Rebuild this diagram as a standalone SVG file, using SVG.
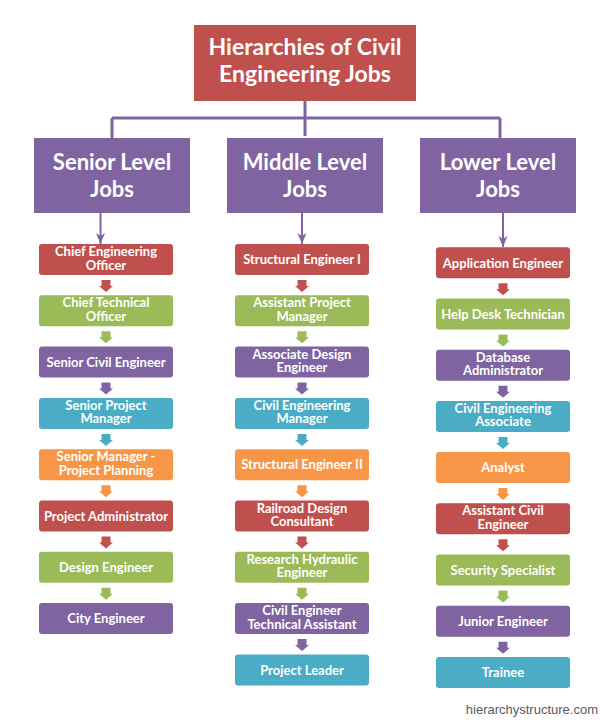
<svg xmlns="http://www.w3.org/2000/svg" width="600" height="720" viewBox="0 0 600 720">
<defs>
<style>
.red{fill:#C0504D}.grn{fill:#9BBB59}.pur{fill:#8064A2}.aqu{fill:#4BACC6}.org{fill:#F79646}
.t{font-family:Lato,"Liberation Sans",sans-serif;font-weight:bold;fill:#fff;text-anchor:middle}
.big{font-size:23px}.mid{font-size:22px}.sm{font-size:13px}
.con{fill:none;stroke:#8064A2;stroke-width:3}
.thin{fill:none;stroke:#8064A2;stroke-width:2;marker-end:url(#ah)}
.foot{font-family:"Liberation Sans",Arial,sans-serif;font-size:13px;fill:#5a5a5a;text-anchor:end}
</style>
<marker id="ah" markerUnits="userSpaceOnUse" markerWidth="12" markerHeight="12" viewBox="0 0 12 12" refX="11" refY="6" orient="auto">
<path d="M0,1.5 L11,6 L0,10.5 L3,6 Z" fill="#8064A2"/>
</marker>
<path id="ba" d="M-4.5,0 H4.5 V6 H7 L0,12 L-7,6 H-4.5 Z"/>
</defs>
<rect width="600" height="720" fill="#fff"/>

<g id="connectors">
<path class="con" d="M305,101 V136 M112,118 H500 M112,118 V138 M500,118 V138"/>
<path class="thin" d="M100.5,213 V244"/>
<path class="thin" d="M302,213 V244"/>
<path class="thin" d="M503,213 V247"/>
<!-- col1 block arrows -->
<use href="#ba" class="red" x="106" y="280"/>
<use href="#ba" class="grn" x="106" y="331.3"/>
<use href="#ba" class="pur" x="106" y="382.6"/>
<use href="#ba" class="aqu" x="106" y="433.9"/>
<use href="#ba" class="org" x="106" y="485.2"/>
<use href="#ba" class="red" x="106" y="536.5"/>
<use href="#ba" class="grn" x="106" y="587.8"/>
<!-- col2 -->
<use href="#ba" class="red" x="302" y="280"/>
<use href="#ba" class="grn" x="302" y="331.3"/>
<use href="#ba" class="pur" x="302" y="382.6"/>
<use href="#ba" class="aqu" x="302" y="433.9"/>
<use href="#ba" class="org" x="302" y="485.2"/>
<use href="#ba" class="red" x="302" y="536.5"/>
<use href="#ba" class="grn" x="302" y="587.8"/>
<use href="#ba" class="pur" x="302" y="639.1"/>
<!-- col3 -->
<use href="#ba" class="red" x="503" y="283.3"/>
<use href="#ba" class="grn" x="503" y="334.5"/>
<use href="#ba" class="pur" x="503" y="385.7"/>
<use href="#ba" class="aqu" x="503" y="436.9"/>
<use href="#ba" class="org" x="503" y="488.1"/>
<use href="#ba" class="red" x="503" y="539.3"/>
<use href="#ba" class="grn" x="503" y="590.5"/>
<use href="#ba" class="pur" x="503" y="641.7"/>
</g>

<g id="title"><rect class="red" x="194" y="25" width="222" height="76"/>
<text class="t big" x="305" y="55">Hierarchies of Civil</text><text class="t big" x="305" y="82">Engineering Jobs</text></g>

<g id="senior"><rect class="pur" x="34" y="138" width="156" height="75"/>
<text class="t mid" x="112" y="170">Senior Level</text><text class="t mid" x="112" y="197">Jobs</text></g>
<g id="middle"><rect class="pur" x="227" y="138" width="156" height="75"/>
<text class="t mid" x="305" y="170">Middle Level</text><text class="t mid" x="305" y="197">Jobs</text></g>
<g id="lower"><rect class="pur" x="420" y="138" width="156" height="75"/>
<text class="t mid" x="498" y="170">Lower Level</text><text class="t mid" x="498" y="197">Jobs</text></g>

<!-- column 1 -->
<g id="s1"><rect class="red" x="39" y="244" width="134" height="31" rx="3"/><text class="t sm" x="106" y="256">Chief Engineering</text><text class="t sm" x="106" y="269.5">Officer</text></g>
<g id="s2"><rect class="grn" x="39" y="295.3" width="134" height="31" rx="3"/><text class="t sm" x="106" y="307.3">Chief Technical</text><text class="t sm" x="106" y="320.8">Officer</text></g>
<g id="s3"><rect class="pur" x="39" y="346.6" width="134" height="31" rx="3"/><text class="t sm" x="106" y="366.8">Senior Civil Engineer</text></g>
<g id="s4"><rect class="aqu" x="39" y="397.9" width="134" height="31" rx="3"/><text class="t sm" x="106" y="409.9">Senior Project</text><text class="t sm" x="106" y="423.4">Manager</text></g>
<g id="s5"><rect class="org" x="39" y="449.2" width="134" height="31" rx="3"/><text class="t sm" x="106" y="461.2">Senior Manager -</text><text class="t sm" x="106" y="474.7">Project Planning</text></g>
<g id="s6"><rect class="red" x="39" y="500.5" width="134" height="31" rx="3"/><text class="t sm" x="106" y="520.7">Project Administrator</text></g>
<g id="s7"><rect class="grn" x="39" y="551.8" width="134" height="31" rx="3"/><text class="t sm" x="106" y="572">Design Engineer</text></g>
<g id="s8"><rect class="pur" x="39" y="603.1" width="134" height="31" rx="3"/><text class="t sm" x="106" y="623.3">City Engineer</text></g>

<!-- column 2 -->
<g id="m1"><rect class="red" x="235" y="244" width="134" height="31" rx="3"/><text class="t sm" x="302" y="264.2">Structural Engineer I</text></g>
<g id="m2"><rect class="grn" x="235" y="295.3" width="134" height="31" rx="3"/><text class="t sm" x="302" y="307.3">Assistant Project</text><text class="t sm" x="302" y="320.8">Manager</text></g>
<g id="m3"><rect class="pur" x="235" y="346.6" width="134" height="31" rx="3"/><text class="t sm" x="302" y="358.6">Associate Design</text><text class="t sm" x="302" y="372.1">Engineer</text></g>
<g id="m4"><rect class="aqu" x="235" y="397.9" width="134" height="31" rx="3"/><text class="t sm" x="302" y="409.9">Civil Engineering</text><text class="t sm" x="302" y="423.4">Manager</text></g>
<g id="m5"><rect class="org" x="235" y="449.2" width="134" height="31" rx="3"/><text class="t sm" x="302" y="469.4">Structural Engineer II</text></g>
<g id="m6"><rect class="red" x="235" y="500.5" width="134" height="31" rx="3"/><text class="t sm" x="302" y="512.5">Railroad Design</text><text class="t sm" x="302" y="526">Consultant</text></g>
<g id="m7"><rect class="grn" x="235" y="551.8" width="134" height="31" rx="3"/><text class="t sm" x="302" y="563.8">Research Hydraulic</text><text class="t sm" x="302" y="577.3">Engineer</text></g>
<g id="m8"><rect class="pur" x="235" y="603.1" width="134" height="31" rx="3"/><text class="t sm" x="302" y="615.1">Civil Engineer</text><text class="t sm" x="302" y="628.6">Technical Assistant</text></g>
<g id="m9"><rect class="aqu" x="235" y="654.4" width="134" height="31" rx="3"/><text class="t sm" x="302" y="674.6">Project Leader</text></g>

<!-- column 3 -->
<g id="l1"><rect class="red" x="436" y="247.3" width="134" height="31" rx="3"/><text class="t sm" x="503" y="267.5">Application Engineer</text></g>
<g id="l2"><rect class="grn" x="436" y="298.5" width="134" height="31" rx="3"/><text class="t sm" x="503" y="318.7">Help Desk Technician</text></g>
<g id="l3"><rect class="pur" x="436" y="349.7" width="134" height="31" rx="3"/><text class="t sm" x="503" y="361.7">Database</text><text class="t sm" x="503" y="375.2">Administrator</text></g>
<g id="l4"><rect class="aqu" x="436" y="400.9" width="134" height="31" rx="3"/><text class="t sm" x="503" y="412.9">Civil Engineering</text><text class="t sm" x="503" y="426.4">Associate</text></g>
<g id="l5"><rect class="org" x="436" y="452.1" width="134" height="31" rx="3"/><text class="t sm" x="503" y="472.3">Analyst</text></g>
<g id="l6"><rect class="red" x="436" y="503.3" width="134" height="31" rx="3"/><text class="t sm" x="503" y="515.3">Assistant Civil</text><text class="t sm" x="503" y="528.8">Engineer</text></g>
<g id="l7"><rect class="grn" x="436" y="554.5" width="134" height="31" rx="3"/><text class="t sm" x="503" y="574.7">Security Specialist</text></g>
<g id="l8"><rect class="pur" x="436" y="605.7" width="134" height="31" rx="3"/><text class="t sm" x="503" y="625.9">Junior Engineer</text></g>
<g id="l9"><rect class="aqu" x="436" y="656.9" width="134" height="31" rx="3"/><text class="t sm" x="503" y="677.1">Trainee</text></g>

<text class="foot" x="598" y="714">hierarchystructure.com</text>
</svg>
